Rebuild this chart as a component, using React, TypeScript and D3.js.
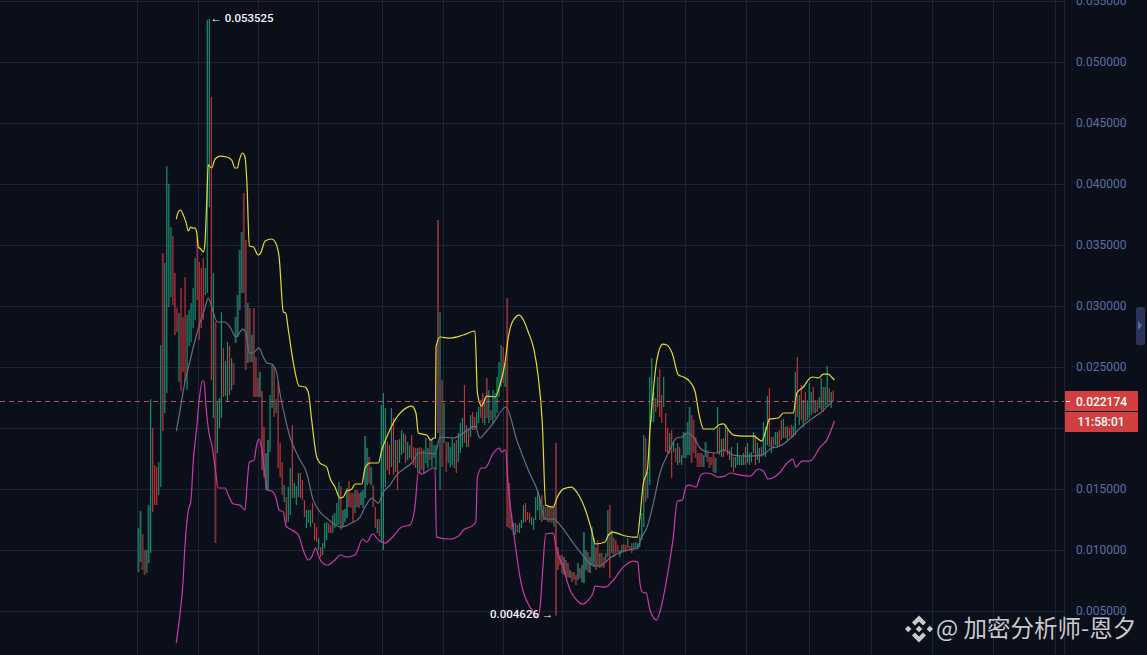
import React from "react";
import * as d3 from "d3";

// all prices in units of 0.001
const candleHigh = [
  11.8,13.19,11.31,10,10,13.69,22.37,20,16.96,16.8,
  17.2,26.8,34.34,33.52,41.47,40,36.47,35.74,32.7,29.83,
  29.42,31.47,29.1,32.37,29.26,29.67,30.24,31.47,33.93,35.65,
  33.6,33.11,33.93,33.11,53.44,53.525,47.13,32.7,28.69,22.13,
  22.46,29.5,26.55,25.49,27.05,26.72,25.73,25.32,29.1,30.9,
  34.59,36.06,39.26,35.41,30.24,29.83,27.62,29.83,25.82,24.1,
  24.59,23.03,20.08,17.95,19.01,22.7,25.16,25,22.37,23.77,
  18.77,17.21,15.32,14.34,15.16,16.72,20.24,15.49,15.24,16.31,
  16.31,15.73,14.09,13.27,13.27,13.27,13.85,12.21,11.88,10.98,
  10.24,10.57,12.21,12.29,12.21,12.05,12.87,13.03,13.85,15.57,
  15.24,13.27,13.36,15.08,15.65,14.67,14.67,14.92,14.92,14.67,
  14.75,14.92,19.34,18.36,17.62,16.8,15.32,13.52,12.54,12.54,
  21.88,22.87,21.64,18.85,18.6,21.64,20.82,19.01,19.01,19.09,
  19.83,19.59,19.42,18.85,18.6,19.42,18.44,18.36,18.36,18.44,
  18.36,18.19,19.18,18.36,19.18,19.01,18.6,18.6,37.05,29.5,
  23.93,22.05,18.85,18.85,18.44,19.18,18.77,19.01,19.59,20.41,
  20.82,23.52,20.24,19.83,21.06,21.31,20.9,21.31,21.72,22.29,
  22.87,22.46,24.1,23.11,21.47,23.11,22.87,24.18,25.41,26.8,
  26.64,25.32,30.65,15.49,13.03,12.21,12.21,12.05,12.21,12.46,
  13.69,13.85,13.11,13.03,12.7,12.62,14.34,14.92,14.34,14.5,
  13.69,13.52,13.52,13.52,13.52,13.52,18.77,10.24,9.59,9.59,
  9.42,9.18,8.93,8.36,8.19,8.19,7.95,8.93,8.52,8.77,
  11.47,10,9.83,9.42,11.88,10.98,10.24,10.82,9.75,9.75,
  9.42,9.75,13.27,13.69,11.64,10.98,10.82,10.41,10,10.41,
  10.49,10.41,10.98,10.33,10.57,10.57,10.65,10.57,11.23,13.03,
  19.42,19.18,16.39,24.18,25.73,22.95,22.46,24.18,24.83,22.7,
  24.18,21.23,20,19.59,19.83,18.85,18.36,18.77,18.44,17.78,
  19.67,19.59,20.49,21.72,21.06,20.65,19.26,17.95,17.95,17.95,
  17.78,18.85,18.19,17.62,17.62,17.95,17.54,21.72,20.08,19.09,
  19.18,20.24,19.83,18.19,18.44,17.62,17.62,18.77,17.78,17.62,
  17.95,18.44,18.77,17.95,18.03,19.67,19.42,18.77,18.36,18.44,
  20.49,20.08,22.62,23.27,19.26,19.26,19.67,19.67,19.83,20.65,
  20.73,20.08,20.16,20,20.24,20.16,24.59,25.82,22.7,23.52,
  22.29,22.95,22.29,23.68,22.95,23.36,22.29,22.29,22.54,24.1,
  23.36,23.36,25.08,23.27,22.95,23.08,
];
const candleLow = [
  8.19,9.01,8.36,7.95,8.11,8.93,9.75,13.1,13.69,13.69,
  14.5,15.16,19.75,21.23,22.87,29.92,30.74,30.08,27.62,27.87,
  23.77,23.03,24.59,23.77,23.11,26.72,27.05,28.19,28.85,30.49,
  27.21,28.19,28.85,30.9,31.06,38.11,23.93,20.82,10.57,17.95,
  20,20.82,22.54,22.62,22.21,22.7,23.11,23.52,26.96,27.46,
  29.67,31.06,31.06,24.75,25.32,25.41,25.41,22.54,22.54,22.54,
  22.54,16.55,15.98,14.9,14.9,18.03,21.64,20.9,21.23,16.72,
  15.98,14.5,13.93,12.21,12.29,12.87,14.26,14.26,13.69,14.34,
  14.26,14.09,12.7,11.8,12.21,11.88,12.21,10.82,10.65,10,
  9.42,9.59,10.16,10.82,11.39,11.39,11.39,11.8,12.05,12.05,
  11.64,11.88,12.29,12.62,13.52,13.44,12.29,13.03,13.52,13.44,
  13.69,13.44,14.26,15.32,15.49,15.32,13.52,11.8,11.39,11.14,
  10.57,10,15.16,16.55,16.15,16.8,16.15,16.39,14.92,17.13,
  17.78,17.95,17.13,17.37,17.54,17.37,16.96,16.72,16.39,16.31,
  16.55,16.31,17.13,16.72,17.37,16.8,17.54,16.55,19.59,14.92,
  16.8,18.77,16.39,17.13,16.8,16.96,16.72,16.31,17.21,17.95,
  18.44,18.77,18.44,18.44,19.26,19.83,19.83,19.99,20.41,20.82,
  20.41,20.24,20.82,20.41,20.65,20.41,20.82,21.23,22.54,23.36,
  23.69,23.36,11.88,11.8,11.64,11.23,11.23,11.47,11.39,11.8,
  12.21,12.29,12.46,12.21,12.05,11.64,12.46,13.27,12.46,12.29,
  12.46,12.46,12.29,12.29,12.21,11.88,4.626,8.36,8.77,8.11,
  7.95,7.78,7.78,7.7,7.37,7.54,7.13,7.54,7.7,7.37,
  7.29,8.36,8.19,8.11,8.77,8.6,8.36,8.6,8.52,8.6,
  8.52,9.01,9.42,7.7,9.75,9.42,9.75,9.83,9.42,9.75,
  9.91,9.83,10.16,10,9.75,10.08,10.16,10.08,10.24,10.82,
  11.88,13.93,14.25,15.32,20.49,20.49,21.31,21.72,20.9,20.41,
  21.72,18.03,17.95,17.95,15.9,18.03,17.21,16.96,17.13,16.96,
  17.54,17.54,17.78,17.78,17.13,17.95,17.54,16.8,16.8,16.8,
  16.8,17.62,17.21,16.72,16.96,16.39,16.31,17.95,17.78,17.62,
  17.62,18.19,17.78,17.37,16.8,16.39,16.72,16.96,16.96,16.96,
  16.96,16.96,17.13,16.96,17.21,17.95,16.96,17.37,17.13,17.62,
  17.78,17.62,18.6,18.44,17.95,18.44,18.6,18.36,18.44,19.01,
  19.18,19.18,19.01,19.26,19.18,19.26,19.42,20.9,20.24,20.65,
  20.08,20.49,20.65,20.82,21.06,21.23,21.23,21.31,21.64,21.47,
  21.31,21.72,21.88,22.13,21.64,22.29,
];
const candleDir = [
  "uudduuuddd","uuduuuuddd","uddduuuuud","ddduuududu","uuduududuu",
  "uuddududdd","udduuuudud","dduduuduuu","ddduuudddu","duuudduuuu",
  "duuudddudd","uuuududdud","uuuddududu","uuduudddud","duuuduuudu",
  "duduuuuduu","udududduud","dududuuuuu","duddduuduu","uddduuuuud",
  "ududdudddd","uddudddudu","uuduuuddud","duududdduu","ddudduuuuu",
  "uduuuududd","uddudududu","uuuudddddd","uudddduudu","dudduduuuu",
  "uduuuuduud","uuududuudd","ududduudud","uduuududuu","duudud",
].join("");
// bar index ranges whose bars are drawn in the subdued, heavier shade
const dimRanges = [[0, 5], [12, 12], [38, 38], [47, 61], [61, 64], [101, 104], [108, 116], [148, 148], [172, 172], [182, 184], [206, 226], [270, 286]];

const upperBand: [number, number][] = [
  [18.8,37.13],[19.8,37.7],[21,37.87],[22.3,37.46],[23.6,36.88],[24.8,36.15],[26,36.47],[27,36.39],[28.1,36.39],[29,35.98],
  [29.8,34.83],[31,34.67],[32.3,34.42],[33,35],[34,38.69],[34.7,41.56],[36.4,41.31],[38.1,42.05],[40.6,42.29],[43.9,42.21],
  [46.4,41.96],[48,41.31],[49.2,41.31],[50.2,41.96],[51.7,42.54],[53,42.21],[53.9,40.33],[55.2,34.92],[57.2,34.83],[59.6,34.18],
  [60.8,34.34],[63,35.33],[66.3,35.49],[68.3,35.16],[70,34.01],[72.1,29.51],[73.3,29.42],[74.6,28.03],[77,25.41],[80,23.44],
  [82.9,23.36],[84.5,22.95],[86.2,20.65],[88.7,17.62],[90.4,17.13],[93.7,16.8],[95.3,15.9],[97.8,15.16],[100.3,14.26],[101.9,14.34],
  [103.6,14.83],[106.1,14.99],[107.8,15.41],[111.1,15.41],[112.8,16.72],[115.2,17.13],[119.4,17.13],[121.1,18.19],[124.4,19.59],[126.8,20.41],
  [131.8,21.47],[136,21.8],[138.1,21.23],[139.3,19.59],[143.5,19.42],[145.5,19.01],[147.1,19.18],[147.8,19.18],[148.1,26.64],[150.1,27.46],
  [155.1,27.37],[161.7,27.62],[167.5,27.95],[168.7,22.86],[170.8,21.8],[173.3,22.62],[177.5,22.54],[179.9,23.52],[182.4,25.32],[184.1,27.46],
  [186.6,28.85],[189.6,29.26],[191.6,28.85],[194,27.87],[196.9,26.39],[199,24.18],[201,20.41],[202.7,13.68],[206.4,13.52],[208.5,14.34],
  [211.3,14.99],[215.5,15.16],[218.8,14.59],[223,13.03],[225.5,11.64],[227.5,10.49],[232.2,10.65],[233.9,11.23],[236.3,11.47],[240.6,11.23],
  [246.3,11.06],[248.3,11.06],[249.6,12.7],[251.3,15.49],[253.3,16.55],[254.6,19.83],[256.3,23.11],[258,25.57],[261,26.88],[263,26.8],
  [265.6,26.14],[268.8,24.34],[271.3,24.18],[274.6,23.77],[277.1,22.95],[278.8,21.31],[281.3,19.92],[286.3,19.92],[288.8,20.24],[291.2,20.33],
  [293.7,19.83],[296.2,19.42],[301.2,19.34],[306.2,19.34],[307.8,19.18],[310.2,18.93],[312.6,20],[314,20.73],[318.5,20.82],[321,21.23],
  [325.9,21.23],[327.7,22.87],[330.9,23.36],[334.3,24.1],[335.9,24.18],[338.4,24.1],[340.9,24.42],[343.4,24.42],[345,24.18],[346.4,23.93],
];
const middleBand: [number, number][] = [
  [18.8,19.75],[20.7,21.47],[23.1,23.77],[24.8,24.92],[27.3,26.64],[29.8,28.19],[33.1,29.83],[34.7,30.65],[37.2,29.5],[39.2,28.69],
  [43,28.69],[45.5,28.28],[48.5,27.46],[51.9,28.11],[53.5,27.78],[55.2,26.14],[57.5,26.23],[60,26.55],[62.1,25.82],[64.1,25.32],
  [66.3,25.24],[68.8,24.5],[70.4,22.87],[72.9,20.9],[75.4,19.26],[79.6,17.62],[83.7,16.31],[87,14.09],[90.4,13.11],[93.7,12.62],
  [97.8,12.05],[101.1,11.88],[106.1,12.21],[110.3,12.7],[112.8,13.52],[116.1,14.26],[119.4,13.85],[121.9,14.75],[125.2,15.32],[128.5,16.14],
  [132.7,16.72],[136,17.13],[139.3,17.95],[143.5,17.95],[147.6,17.87],[150.1,19.26],[156.7,19.18],[161.7,19.59],[167.5,20.16],[170,19.18],
  [172.5,19.59],[176.6,20.41],[182.9,21.72],[188.3,19.01],[194,16.55],[199,14.67],[202.4,12.54],[206.5,12.54],[210.7,11.88],[216.4,10.57],
  [222.3,9.34],[224.7,8.85],[228,8.69],[230.6,8.77],[234.7,9.34],[241.3,9.91],[248.3,10.16],[250.5,11.06],[253,11.8],[256.3,13.85],
  [259.6,16.31],[263.7,17.95],[267.9,19.18],[270.4,19.26],[272.9,19.59],[276.2,19.26],[279.5,18.36],[282.9,18.03],[287.8,17.95],[291.1,18.19],
  [296.1,17.78],[302.8,17.7],[310.2,17.78],[315.2,18.36],[319.3,18.52],[325.2,19.26],[329.3,20],[334.3,20.65],[339.3,21.23],[346,22.29],
];
const lowerBand: [number, number][] = [
  [18.8,2.37],[20.7,4.83],[22,6.96],[23.1,10.24],[24.8,13.28],[26,13.93],[27.3,17.37],[29,20.08],[30.1,22.13],[31.8,23.85],
  [32.6,23.85],[33.6,21.72],[35.1,19.59],[36.7,18.44],[38.1,16.8],[39.7,15.08],[43.1,15.08],[44.7,14.5],[47.2,13.77],[50.5,13.68],
  [53,13.28],[54.2,15.73],[55.2,17.21],[57.5,17.37],[58.8,18.6],[60.1,19.09],[61.3,18.36],[63,15.98],[64.1,14.92],[66.3,14.83],
  [68.3,14.34],[70,13.28],[72.1,13.11],[73.4,11.96],[75.4,11.72],[79.6,11.23],[82,10],[84.5,9.18],[86.2,9.42],[88.2,10.16],
  [89.5,9.59],[91.2,9.01],[94,8.77],[97.8,9.18],[100.3,9.59],[103.6,9.42],[107.8,9.59],[111.6,10.9],[113.6,10.65],[116.6,11.31],
  [119.4,10.82],[122.7,10.57],[126,10.98],[131,11.88],[135.1,12.05],[137.6,13.52],[139.3,16.39],[141,16.23],[146.7,16.72],[147.6,16.72],
  [148.3,11.06],[155,10.9],[160,11.23],[161.7,11.64],[165.9,11.96],[167.9,12.29],[168.7,15.98],[170.8,16.72],[172.5,16.72],[176.6,17.95],
  [179.6,18.36],[180.8,18.03],[182.6,18.19],[184.1,15.16],[186.6,11.64],[189.9,7.78],[195.7,5.08],[198.5,4.42],[199.9,5.32],[201.2,8.36],
  [202.7,11.31],[206.5,11.39],[207.8,10.24],[211.4,8.6],[214.8,6.72],[218.1,5.9],[221.1,5.57],[223.9,5.9],[226.4,6.55],[227.2,7.05],
  [232.2,6.96],[236.4,7.54],[241.3,8.6],[246.3,9.09],[248.5,9.01],[249.6,7.29],[250.8,6.55],[252.7,6.47],[254.6,5.08],[257.9,4.26],
  [260.4,5.49],[263.7,8.36],[266.2,11.06],[268.2,14.01],[270.7,14.09],[272.6,15.24],[274.2,15.32],[277.5,15.16],[279.9,16.14],[282,16.31],
  [285.3,16.23],[288.6,15.98],[291.9,16.06],[294.4,16.31],[299.4,16.14],[304.4,16.06],[308.5,16.64],[311,16.47],[313.5,15.82],[318.5,16.23],
  [323.4,17.21],[325.7,17.45],[327.2,16.8],[330.2,17.29],[334.3,17.29],[339.3,18.44],[342.6,19.01],[346.4,20.57],
];
const yTicks = [5, 10, 15, 20, 25, 30, 35, 40, 45, 50, 55];
const monthTicks = [-0.5, 29.6, 59.5, 89.3, 121, 151.6, 181.4, 210.8, 241.2, 272, 302.4, 333.8, 364.6, 395, 425.3, 456.2];
const lastPrice = 22.174;
const countdown = "11:58:01";
const highestLabel = "← 0.053525";
const lowestLabel = "0.004626 →";
const watermark = "@ 加密分析师-恩夕";

const BG = "#0b0f1a";
const GRID = "#1d2236";
const FONT = "Roboto, sans-serif";

export default function App() {
  const x = d3.scaleLinear().domain([0, 346]).range([138.5, 833.6]);
  // bar positions: the bar list has a couple of irregular gaps, so it is anchored at three known spikes
  const xBar = d3.scaleLinear().domain([0, 148, 206, 345]).range([138.5, 438, 556, 833.2]);
  const y = d3.scaleLinear().domain([5, 55]).range([611, 1]);
  const line = d3.line<[number, number]>().x((d) => x(d[0])).y((d) => y(d[1])).curve(d3.curveMonotoneX);
  const yP = y(lastPrice);
  const isDim = (i: number) => dimRanges.some(([a, b]) => i >= a && i <= b);
  return (
    <svg width={1147} height={655} viewBox="0 0 1147 655"
      style={{ position: "absolute", left: 0, top: 0, background: BG, display: "block" }}>
      <rect x={0} y={0} width={1147} height={655} fill={BG} />
      {yTicks.map((t) => (
        <line key={t} x1={0} x2={1064} y1={Math.round(y(t)) + 0.5} y2={Math.round(y(t)) + 0.5} stroke={GRID} />
      ))}
      {monthTicks.map((t) => (
        <line key={t} x1={Math.round(x(t)) + 0.5} x2={Math.round(x(t)) + 0.5} y1={0} y2={655} stroke={GRID} />
      ))}
      <line x1={1064.5} x2={1064.5} y1={0} y2={655} stroke={GRID} />
      {candleHigh.map((h, i) => {
        const dim = isDim(i);
        const up = candleDir[i] === "u";
        const fill = dim ? (up ? "#1e6a5c" : "#7c2e35") : up ? "#1aa57c" : "#e0393c";
        const w = dim ? 2 : 1.2;
        return (
          <rect key={i} x={xBar(i) - w / 2} width={w} y={y(h)} height={Math.max(1, y(candleLow[i]) - y(h))}
            fill={fill} fillOpacity={dim ? 1 : 0.85} />
        );
      })}
      <path d={line(upperBand) ?? ""} fill="none" stroke="#e2dc2b" strokeWidth={1.2} />
      <path d={line(middleBand) ?? ""} fill="none" stroke="#666d84" strokeWidth={1.2} />
      <path d={line(lowerBand) ?? ""} fill="none" stroke="#c93aa8" strokeWidth={1.2} />
      <line x1={0} x2={1064} y1={yP} y2={yP} stroke="#a8585c" strokeDasharray="5 4" strokeWidth={1} />
      {yTicks.map((t) => (
        <text key={t} x={1076} y={y(t) + 4} fontFamily={FONT} fontSize={12} fill="#5a6ea5">
          {(t / 1000).toFixed(6)}
        </text>
      ))}
      <text x={x(36) - 0.5} y={y(53.525) + 3.5} fontFamily={FONT} fontSize={11.5} fontWeight={500} fill="#f2f4f8">{highestLabel}</text>
      <text x={x(206) + 1} y={y(4.626) + 2} textAnchor="end" fontFamily={FONT} fontSize={11.5} fontWeight={500} fill="#f2f4f8">{lowestLabel}</text>
      <rect x={1065} y={391} width={73} height={20} fill="#d13f40" />
      <rect x={1065} y={412} width={73} height={20} fill="#d13f40" />
      <line x1={1066} x2={1070} y1={yP} y2={yP} stroke="#fff" />
      <text x={1076} y={405.5} fontFamily={FONT} fontSize={12} fontWeight={500} fill="#fff">{(lastPrice / 1000).toFixed(6)}</text>
      <text x={1101} y={426} textAnchor="middle" fontFamily={FONT} fontSize={12} fontWeight={500} fill="#fff">{countdown}</text>
      <rect x={1136} y={307} width={9} height={38} rx={2} fill="#2c3358" />
      <path d="M1138 321 L1142 325.5 L1138 330 Z" fill="#5b6b9a" />
      <g fill="#c9cacd" transform="translate(919 629) scale(1.08)">
        <path d="M-6.5 -6 L0 -12.5 L6.5 -6 L3.7 -3.3 L0 -7 L-3.7 -3.3 Z" />
        <path d="M-6.5 6 L0 12.5 L6.5 6 L3.7 3.3 L0 7 L-3.7 3.3 Z" />
        <path d="M-13 0 L-10 -3 L-7 0 L-10 3 Z" />
        <path d="M13 0 L10 -3 L7 0 L10 3 Z" />
        <path d="M-3 0 L0 -3 L3 0 L0 3 Z" />
      </g>
      <text x={936} y={636.5} fontFamily="'Noto Sans CJK SC', sans-serif" fontSize={23.5} fill="#c9cacd">{watermark}</text>
    </svg>
  );
}
